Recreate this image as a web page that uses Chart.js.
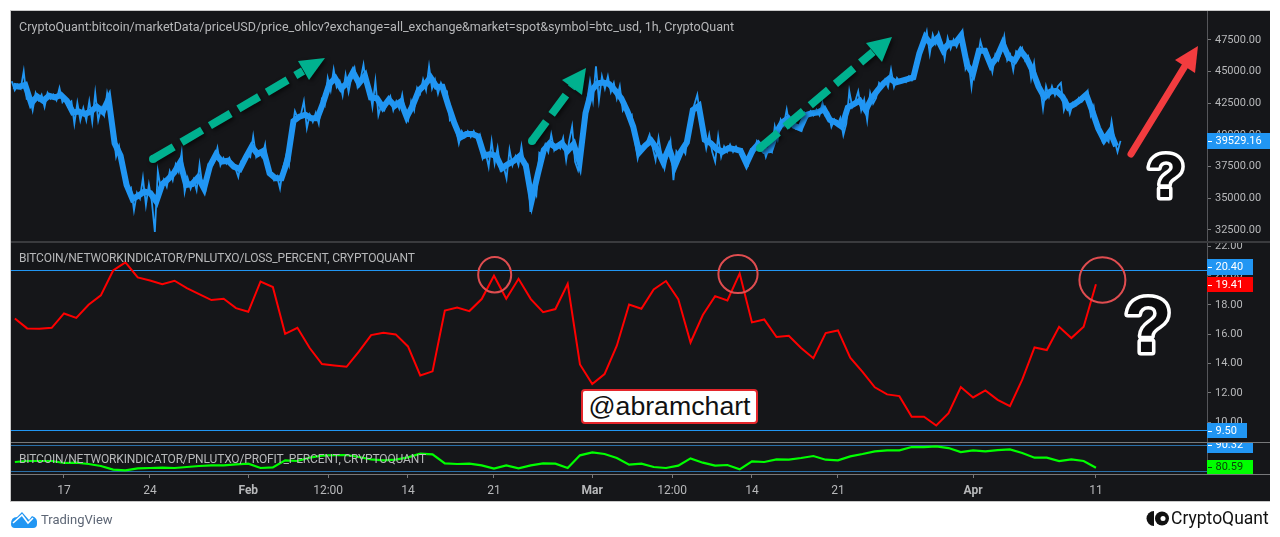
<!DOCTYPE html>
<html>
<head>
<meta charset="utf-8">
<title>BTC price vs UTXO loss percent</title>
<script src="https://cdn.jsdelivr.net/npm/chart.js@4"></script>
<style>
    html, body { margin: 0; padding: 0; background: #fff; }
    #wrap { position: relative; width: 1280px; height: 537px; overflow: hidden; font-family: Roboto, sans-serif; }
    canvas { position: absolute; left: 0; top: 0; }
    svg.over { position: absolute; left: 0; top: 0; }
    .paneTitle { position: absolute; left: 19px; color: #b7b8ba; font-size: 12px; line-height: 14px; white-space: nowrap; letter-spacing: -0.15px; }
    #abram { position: absolute; left: 581px; top: 389px; width: 173px; height: 31px; border: 2px solid #e5262b; border-radius: 4px; background: #fff;
        color: #111; font: 26.7px/31px "Liberation Sans", sans-serif; text-align: center; }
    #tvText { position: absolute; left: 41px; top: 512px; color: #5d6675; font-size: 13px; line-height: 16px; }
    #cqText { position: absolute; left: 1171px; top: 507px; color: #111; font: 17.5px/23px Roboto, sans-serif; }
</style>
</head>
<body>
<div id="wrap">
    <canvas id="chart" width="1280" height="537"></canvas>
    <div class="paneTitle" style="top:20px;font-size:12.5px;letter-spacing:0">CryptoQuant:bitcoin/marketData/priceUSD/price_ohlcv?exchange=all_exchange&amp;market=spot&amp;symbol=btc_usd, 1h, CryptoQuant</div>
    <div class="paneTitle" style="top:251px">BITCOIN/NETWORKINDICATOR/PNLUTXO/LOSS_PERCENT, CRYPTOQUANT</div>
    <div class="paneTitle" style="top:452px">BITCOIN/NETWORKINDICATOR/PNLUTXO/PROFIT_PERCENT, CRYPTOQUANT</div>

    <!-- hand drawn marks on top of the chart -->
    <svg class="over" width="1280" height="537">
        <g style="filter:drop-shadow(2px 2px 2px rgba(0,0,0,.6))">
            <g fill="none" stroke="#00b18f" stroke-width="8">
                <line x1="153" y1="159" x2="303" y2="71" stroke-dasharray="24 9"/>
                <line x1="532" y1="141" x2="572" y2="87" stroke-dasharray="24 9"/>
                <line x1="760" y1="148" x2="873" y2="52" stroke-dasharray="24 9"/>
            </g>
            <g fill="#00b18f">
                <circle cx="153" cy="159" r="4"/><circle cx="532" cy="141" r="4"/><circle cx="760" cy="148" r="4"/>
                <polygon points="325,58 298,61 309,80"/>
                <polygon points="586,68 562,80 582,95"/>
                <polygon points="892,37 866,43 882,62"/>
            </g>
        </g>
        <line x1="1131" y1="154" x2="1185" y2="66" stroke="#f23c3f" stroke-width="7" stroke-linecap="round"/>
        <polygon points="1198,46 1175,60 1195,73" fill="#f23c3f"/>
        <g fill="none" stroke="#e04d50" stroke-width="2">
            <ellipse cx="494.7" cy="274.7" rx="16.5" ry="17.7"/>
            <ellipse cx="738" cy="274" rx="19.6" ry="19"/>
            <ellipse cx="1102.4" cy="280" rx="23" ry="22.7"/>
        </g>
        <g font-family="Liberation Sans" font-weight="bold" fill="#0c0c0e" stroke="#fff" stroke-width="7" stroke-linejoin="round" text-anchor="middle" paint-order="stroke">
            <text x="1166" y="197" font-size="62">?</text>
            <text x="1148" y="352" font-size="78">?</text>
        </g>
        <!-- TradingView logo -->
        <path d="M11 524 Q11 517 17 517 L22 512 L29 520 L32 516 Q38 518 37 524 Q37 528 33 528 L15 528 Q11 528 11 524 Z" fill="#2196f3"/>
        <path d="M13 523 L22 515 L28 523 L33 518" fill="none" stroke="#fff" stroke-width="1.6"/>
        <!-- CryptoQuant logo -->
        <path d="M1154 511 A7.5 7.5 0 0 0 1154 526 Z" fill="#111"/>
        <circle cx="1162" cy="518.5" r="7" fill="#111"/>
        <circle cx="1163" cy="518.5" r="2.5" fill="#fff"/>
    </svg>
    <div id="abram">@abramchart</div>
    <div id="tvText">TradingView</div>
    <div id="cqText">CryptoQuant</div>
</div>

<script>
// ticks on the time axis, in days since Jan 1
const xTickDays = [16, 23, 31, 37.5, 44, 51, 59, 65.5, 72, 79, 90, 100];
const xTickLabels = ['17', '24', 'Feb', '12:00', '14', '21', 'Mar', '12:00', '14', '21', 'Apr', '11'];
const xBoldLabels = ['Feb', 'Mar', 'Apr'];

const priceTicks = [32500, 35000, 37500, 40000, 42500, 45000, 47500];
const lossTicks = [10, 12, 14, 16, 18, 20, 22];

const lossLevels = [20.40, 9.50];
const profitLevels = [90.83, 79.06];

// price, every few hours (high/low of the band)
const priceStartDay = 11.75;
const priceEndDay = 102;
const priceValues = [
    44240, 43530, 43970, 43660, 45030, 42870, 43050, 41950, 43320, 42740, 43180, 42210, 43320, 42870, 43180, 42740,
    43710, 42600, 42920, 42470, 42660, 40890, 42530, 41160, 42130, 41160, 42660, 41030, 43320, 41160, 42130, 41550,
    43320, 42340, 40390, 38290, 39100, 37600, 36600, 35500, 35810, 34050, 35420, 34970, 36600, 34450, 36080, 34710,
    32340, 37130, 35760, 36470, 35890, 37130, 36420, 37660, 37080, 38580, 35500, 36600, 35760, 36470, 35630, 37660,
    35890, 35630, 37660, 37470, 37920, 38970, 37600, 38180, 37740, 38180, 37600, 37390, 36680, 37920, 38000, 38450,
    38260, 39890, 38260, 38710, 38260, 39240, 36950, 37000, 36420, 36740, 35760, 37390, 38310,
    37600, 40290, 41870, 41290, 41600, 42660, 40530, 41600, 41030, 41740, 40890, 42790, 42340, 44500, 43530, 45160,
    43790, 44240, 43130, 44760, 43390, 44630, 45290, 43790, 44370, 45550, 43790, 43710, 42210, 44240, 41550, 42390,
    41950, 42530, 43050, 41950, 42660, 42080, 43180, 41680, 41160, 42660, 41950, 43710, 43260, 44370, 43530, 45420,
    43660, 44370, 43260, 44100, 43530, 43450, 41160, 41340, 40500, 39310, 40290, 39840, 40290, 39840, 40290, 39710,
    40030, 38130, 38580, 37470, 39500, 37740, 38970, 37210, 37530, 36550, 38840, 37600, 38310, 37600, 39100, 37470,
    37660, 33920, 35810, 35240, 38580, 38390, 39240, 38660, 40030, 38790, 39240, 38920, 39760,
    38000, 39500, 40680, 37870, 37210, 38450, 40810, 42660, 44240, 42740, 45420, 42740, 44630, 43660, 44630, 43390,
    44100, 42870, 43840, 41950, 42390, 41420, 41600, 39710, 38130, 39100, 38920, 39370, 40030, 39050, 38000, 39760,
    38390, 37340, 38450, 39500, 36420, 38710, 38390, 38970, 38530, 40290, 41550, 42390, 43180, 41420, 40290, 38920,
    40030, 38660, 37870, 39890, 38260, 39100, 38660, 39240, 38660, 39100, 38660, 38840, 37870, 37600, 38840, 38660,
    39500, 39050, 39240, 38260, 38970, 38660, 40680, 39710, 41210, 40760, 42000, 40630, 40950, 40500, 40680, 40370,
    41740, 41420, 41870, 41550, 42000, 41550, 42530, 41550, 41740, 40630, 41210, 40760, 41340, 39970,
    40890, 43450, 42210, 42660, 43450, 41950, 42790, 41160, 43320, 42470, 42920, 44110, 43790, 44370, 43790, 45160,
    43790, 44500, 44180, 44370, 44180, 44630, 44320, 44760, 46340, 46550, 47260, 48180, 46420, 47920, 47210, 48050,
    47340, 46030, 47660, 46820, 47530, 46950, 47530, 48180, 45240, 45820, 43790, 45820, 45890, 47400, 46550, 46740,
    46030, 44970, 46340, 45890, 46610, 47790, 45890, 46340, 45110, 46610, 46420, 46870, 45890, 46210, 44450, 45680,
    43790, 43840, 42080, 43840, 43000, 43840, 43130, 43840, 44110, 41950, 42660, 41680, 42530, 42340, 42920, 42610,
    42920, 43450, 41550, 42260, 40630, 40420, 39450, 39760, 39450, 41080, 39580, 38660, 39529.16
];

// daily series start on Jan 13 (day 12)
const dailyStartDay = 12;
const lossValues = [
    17.08, 16.40, 16.37, 16.44, 17.42, 17.12, 18.01, 18.65, 20.35, 20.90, 19.88, 19.67, 19.42, 19.65, 19.15, 18.74,
    18.33, 18.42, 17.78, 17.53, 19.60, 19.22, 16.03, 16.44, 15.06, 13.97, 13.87, 13.78, 14.81, 15.94, 16.10, 15.99,
    15.17, 13.19, 13.47, 17.62, 17.83, 17.58, 18.40, 19.99, 18.42, 19.78, 18.40, 17.51, 17.72, 19.44, 13.94, 12.60,
    13.28, 15.22, 18.03, 17.74, 19.06, 19.63, 18.40, 15.44, 17.31, 18.60, 18.31, 20.15, 16.81, 17.01, 15.81, 15.90,
    15.06, 14.37, 16.08, 16.26, 14.40, 13.44, 12.38, 11.90, 11.78, 10.37, 10.37, 9.78, 10.62, 12.40, 11.69, 12.17,
    11.53, 11.10, 12.90, 15.10, 14.92, 16.51, 15.74, 16.51, 19.41
];
const profitValues = [
    83.19, 83.65, 83.65, 83.65, 82.73, 82.88, 82.27, 81.35, 79.67, 79.37, 80.28, 80.44, 80.59, 80.44, 80.90, 81.35,
    81.66, 81.66, 82.12, 82.42, 80.44, 80.74, 83.95, 83.65, 85.18, 86.09, 86.40, 86.40, 85.48, 84.41, 83.95, 84.26,
    85.33, 87.01, 86.71, 82.58, 82.27, 82.42, 81.66, 80.13, 81.66, 80.28, 81.66, 82.58, 82.42, 80.44, 86.25, 87.62,
    86.86, 85.02, 81.97, 82.42, 80.90, 80.44, 81.51, 84.87, 82.88, 81.51, 81.81, 79.83, 83.50, 83.19, 84.41, 84.26,
    85.02, 85.94, 84.26, 83.95, 85.79, 86.86, 88.08, 88.54, 88.54, 90.07, 90.07, 90.38, 89.61, 87.78, 88.54, 88.08,
    88.69, 89.00, 87.32, 85.18, 85.18, 83.65, 84.41, 83.65, 80.59
];

const BG = '#151619';
const BLUE = '#2196f3';

// the zigzag gives the spikes, a thick line through the middle of each high/low pair closes the band
const priceStep = (priceEndDay - priceStartDay) / (priceValues.length - 1);
const pricePoints = priceValues.map((v, i) => ({ x: priceStartDay + i * priceStep, y: v }));
const priceBandPoints = [];
for (let i = 0; i + 1 < priceValues.length; i += 2) {
    priceBandPoints.push({ x: priceStartDay + (i + 0.5) * priceStep, y: (priceValues[i] + priceValues[i + 1]) / 2 });
}
const lossPoints = lossValues.map((v, i) => ({ x: dailyStartDay + i, y: v }));
const profitPoints = profitValues.map((v, i) => ({ x: dailyStartDay + i, y: v }));

function fixWidth(scale) { scale.width = 62; }

// value tag on the price axis
function drawTag(ctx, scale, text, boxTop, boxBottom, boxRight, fill, color) {
    const left = scale.left;
    ctx.save();
    ctx.fillStyle = fill;
    ctx.fillRect(left, boxTop, boxRight - left, boxBottom - boxTop);
    ctx.fillStyle = color;
    ctx.fillRect(left + 1, Math.round((boxTop + boxBottom) / 2), 4, 1);
    ctx.font = '11px Roboto';
    ctx.textBaseline = 'middle';
    ctx.fillText(text, left + 8.5, (boxTop + boxBottom) / 2 + 0.5);
    ctx.restore();
}

const panesPlugin = {
    id: 'panes',
    beforeDraw(chart) {
        const ctx = chart.ctx;
        ctx.save();
        ctx.fillStyle = '#fff';
        ctx.fillRect(0, 0, 1280, 537);
        ctx.fillStyle = BG;
        ctx.fillRect(11, 11, 1259, 490);
        ctx.fillStyle = '#c9c9c9';
        ctx.fillRect(10, 10, 1260, 1);
        ctx.fillRect(10, 10, 1, 492);
        ctx.fillRect(10, 501, 1260, 1);
        ctx.restore();
    },
    beforeDatasetsDraw(chart) {
        const ctx = chart.ctx;
        const area = chart.chartArea;
        ctx.save();
        ctx.fillStyle = BLUE;
        lossLevels.forEach(v => ctx.fillRect(area.left, Math.round(chart.scales.loss.getPixelForValue(v)), area.right - area.left, 1));
        ctx.fillStyle = '#2a6fa8';
        profitLevels.forEach(v => ctx.fillRect(area.left, Math.round(chart.scales.profit.getPixelForValue(v)), area.right - area.left, 1));
        ctx.restore();
    },
    afterDraw(chart) {
        const ctx = chart.ctx;
        const { price, loss, profit } = chart.scales;

        drawTag(ctx, price, '39529.16', 133, 149, 1270, BLUE, '#fff');
        drawTag(ctx, loss, '20.40', 259, 275, 1253, BLUE, '#fff');
        drawTag(ctx, loss, '19.41', 277, 292, 1253, '#ff0000', '#fff');
        drawTag(ctx, loss, '9.50', 423, 438, 1247, BLUE, '#fff');
        ctx.save();
        ctx.beginPath();
        ctx.rect(profit.left, 443, 70, 40);
        ctx.clip();
        drawTag(ctx, profit, '90.32', 437, 453, 1253, BLUE, '#fff');
        ctx.restore();
        drawTag(ctx, profit, '80.59', 460, 474, 1253, '#00ff00', '#0a3d0a');

        // pane separators run across the price axis too
        ctx.save();
        ctx.fillStyle = '#3a3b3e';
        ctx.fillRect(11, 241, 1259, 2);
        ctx.fillStyle = '#77787a';
        ctx.fillRect(11, 442, 1259, 1);
        ctx.fillRect(11, 474, 1259, 1);
        ctx.restore();
    }
};

new Chart(document.getElementById('chart'), {
    type: 'line',
    data: {
        datasets: [
            { data: pricePoints, yAxisID: 'price', borderColor: BLUE, borderWidth: 1.8, pointRadius: 0, tension: 0 },
            { data: priceBandPoints, yAxisID: 'price', borderColor: BLUE, borderWidth: 6, pointRadius: 0, tension: 0 },
            { data: lossPoints, yAxisID: 'loss', borderColor: '#ff0000', borderWidth: 2, pointRadius: 0, tension: 0 },
            { data: profitPoints, yAxisID: 'profit', borderColor: '#00ff00', borderWidth: 2.2, pointRadius: 0, tension: 0 }
        ]
    },
    options: {
        responsive: false,
        animation: false,
        devicePixelRatio: 1,
        layout: { padding: { left: 11, top: 11, right: 11, bottom: 36 } },
        plugins: { legend: { display: false }, tooltip: { enabled: false } },
        scales: {
            x: {
                type: 'linear',
                min: 11.686,
                max: 109.04,
                afterBuildTicks: scale => { scale.ticks = xTickDays.map(d => ({ value: d })); },
                afterFit: scale => { scale.height = 27; },
                grid: { drawOnChartArea: false, tickLength: 4, color: '#77787a' },
                border: { display: false },
                ticks: {
                    autoSkip: false,
                    maxRotation: 0,
                    padding: 6,
                    color: '#b7b8ba',
                    font: ctx => ({
                        family: 'Roboto',
                        size: 12,
                        weight: ctx.tick && xBoldLabels.includes(xTickLabels[xTickDays.indexOf(ctx.tick.value)]) ? 'bold' : 'normal'
                    }),
                    callback: value => xTickLabels[xTickDays.indexOf(value)]
                }
            },
            price: {
                type: 'linear',
                position: 'right',
                stack: 'panes',
                stackWeight: 230.3,
                min: 31607,
                max: 49790,
                afterBuildTicks: scale => { scale.ticks = priceTicks.map(v => ({ value: v })); },
                afterFit: fixWidth,
                grid: { drawOnChartArea: false, tickLength: 4, color: '#77787a' },
                border: { color: '#55565a' },
                ticks: { color: '#b7b8ba', font: { family: 'Roboto', size: 11 }, padding: 4, callback: v => v.toFixed(2) }
            },
            loss: {
                type: 'linear',
                position: 'right',
                stack: 'panes',
                stackWeight: 201,
                min: 8.65,
                max: 22.35,
                afterBuildTicks: scale => { scale.ticks = lossTicks.map(v => ({ value: v })); },
                afterFit: fixWidth,
                grid: { drawOnChartArea: false, tickLength: 4, color: '#77787a' },
                border: { color: '#55565a' },
                ticks: { color: '#b7b8ba', font: { family: 'Roboto', size: 11 }, padding: 4, callback: v => v.toFixed(2) }
            },
            profit: {
                type: 'linear',
                position: 'right',
                stack: 'panes',
                stackWeight: 32,
                min: 77.68,
                max: 92.38,
                afterFit: fixWidth,
                grid: { display: false },
                border: { color: '#55565a' },
                ticks: { display: false }
            }
        }
    },
    plugins: [panesPlugin]
});
</script>
</body>
</html>
